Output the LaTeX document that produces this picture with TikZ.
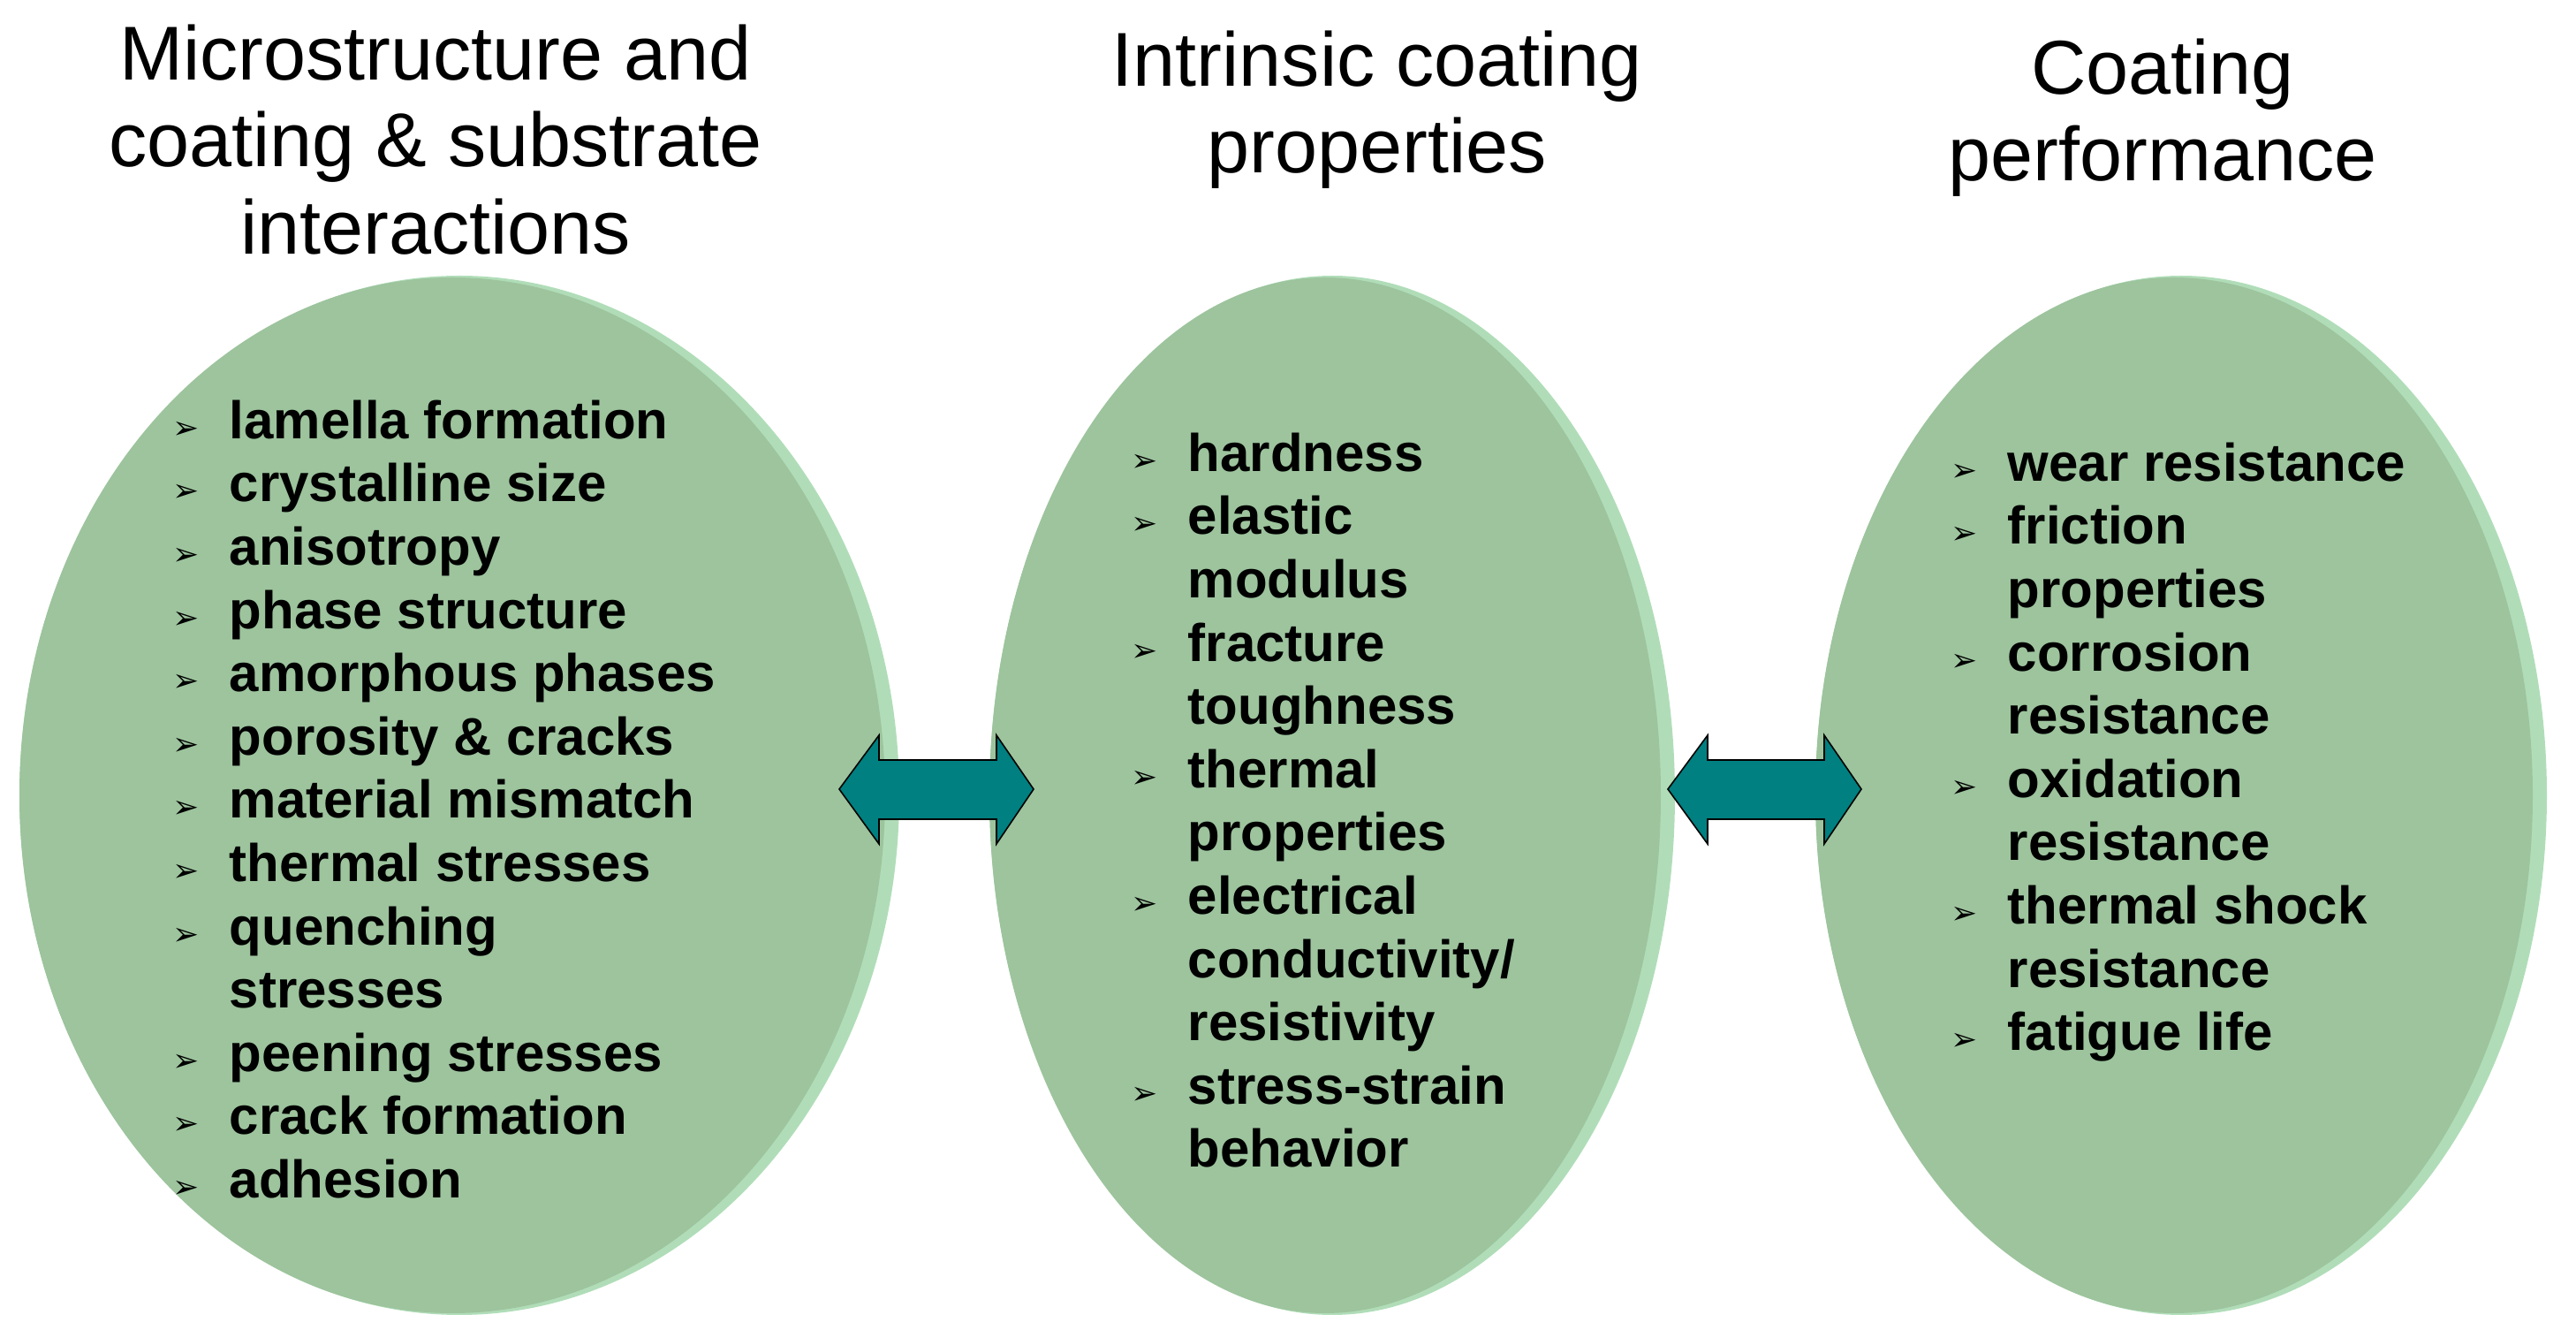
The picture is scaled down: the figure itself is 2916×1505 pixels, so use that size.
\documentclass[tikz,border=0pt]{standalone}
\usepackage{fontspec}
\setmainfont{Liberation Sans}
\newfontfamily\bulfont{DejaVu Sans}
\definecolor{ellfill}{HTML}{9DC49D}
\definecolor{ellrim}{HTML}{B0DDB8}
\definecolor{teal}{HTML}{008080}
\newcommand{\bi}{\makebox[16pt][l]{\bulfont\small ➢}}
\newcommand{\bc}{\hspace*{16pt}}
\begin{document}
\begin{tikzpicture}[x=0.25pt,y=-0.25pt,
  title/.style={align=center,font=\fontsize{21.6}{24.6}\selectfont,inner sep=0},
  list/.style={align=left,anchor=north west,inner sep=0,font=\fontsize{15}{17.9}\selectfont\bfseries},
  arr/.style={fill=teal,draw=black,line width=0.4pt}]
\useasboundingbox (0,0) rectangle (2916,1505);
% ellipses
\fill[ellrim] (520,900) ellipse [x radius=498,y radius=588];
\fill[ellfill] (512,900) ellipse [x radius=490,y radius=586];
\fill[ellrim] (1508,900) ellipse [x radius=388,y radius=588];
\fill[ellfill] (1500,900) ellipse [x radius=380,y radius=586];
\fill[ellrim] (2469,900) ellipse [x radius=414,y radius=588];
\fill[ellfill] (2461,900) ellipse [x radius=406,y radius=586];
% titles
\node[title] (t1) at (493,158) {Microstructure and\\coating \& substrate\\interactions};
\node[title] (t2) at (1559,124) {Intrinsic coating\\properties};
\node[title] (t3) at (2448,133) {Coating\\performance};
% lists
\node[list] (l1) at (195,452) {\bi lamella formation\\\bi crystalline size\\\bi anisotropy\\\bi phase structure\\\bi amorphous phases\\\bi porosity \& cracks\\\bi material mismatch\\\bi thermal stresses\\\bi quenching\\\bc stresses\\\bi peening stresses\\\bi crack formation\\\bi adhesion};
\node[list] (l2) at (1280,489) {\bi hardness\\\bi elastic\\\bc modulus\\\bi fracture\\\bc toughness\\\bi thermal\\\bc properties\\\bi electrical\\\bc conductivity/\\\bc resistivity\\\bi stress-strain\\\bc behavior};
\node[list] (l3) at (2208,500) {\bi wear resistance\\\bi friction\\\bc properties\\\bi corrosion\\\bc resistance\\\bi oxidation\\\bc resistance\\\bi thermal shock\\\bc resistance\\\bi fatigue life};
% arrows
\draw[arr] (950,893) -- (995,832) -- (995,860) -- (1128,860) -- (1128,832) -- (1170,893) -- (1128,955) -- (1128,927) -- (995,927) -- (995,955) -- cycle;
\draw[arr] (1888,893) -- (1933,832) -- (1933,860) -- (2065,860) -- (2065,832) -- (2107,893) -- (2065,955) -- (2065,927) -- (1933,927) -- (1933,955) -- cycle;
\end{tikzpicture}
\end{document}
